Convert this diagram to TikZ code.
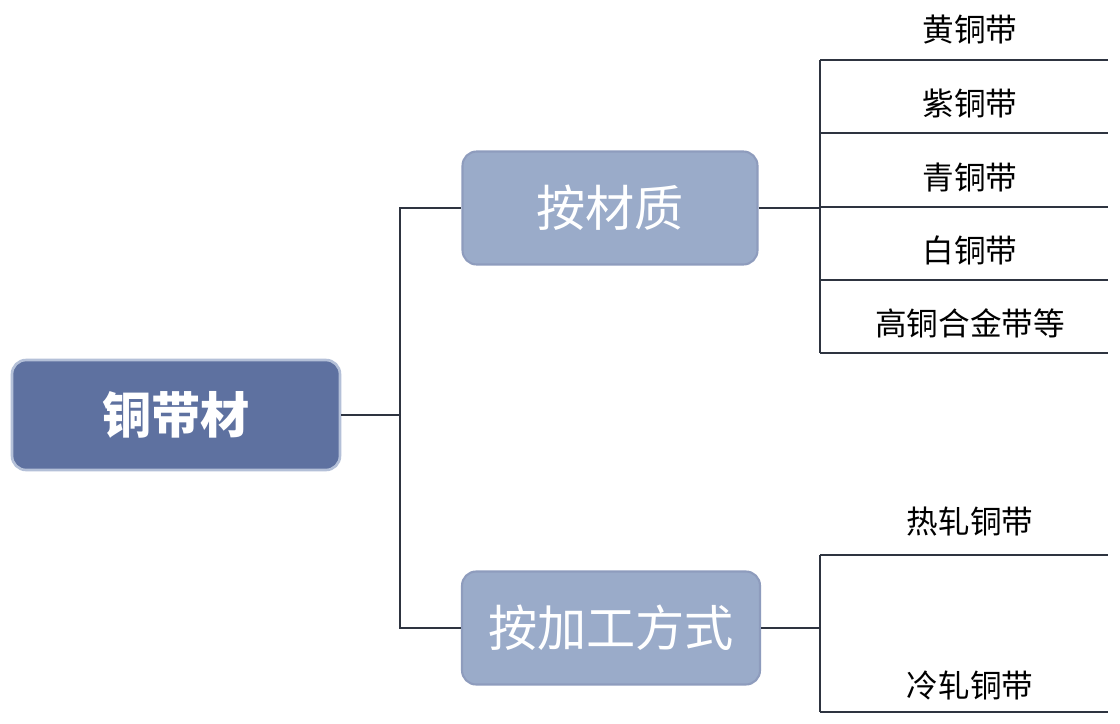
\documentclass[tikz,border=0pt]{standalone}
\usepackage{fontspec}
\setmainfont{Noto Sans CJK SC}
\usetikzlibrary{positioning}
\definecolor{rootblue}{HTML}{5E71A0}
\definecolor{subblue}{HTML}{9AABC9}
\definecolor{boxedge}{HTML}{B4C0D8}
\definecolor{linegray}{HTML}{2E3440}
\begin{document}
\begin{tikzpicture}[x=0.02cm,y=-0.02cm,
            rootbox/.style={rounded corners=8pt, fill=rootblue, draw=boxedge, line width=1.5pt, text=white, font=\fontsize{28}{32}\selectfont\bfseries, minimum width=6.56cm, minimum height=2.2cm},
            subbox/.style={rounded corners=8pt, fill=subblue, draw=rootblue!70, line width=1.2pt, text=white, font=\fontsize{28}{32}\selectfont, minimum width=5.9cm, minimum height=2.26cm},
            leaf/.style={font=\fontsize{18}{22}\selectfont, text=black},
            branch/.style={draw=linegray, line width=1pt}
            ]
        \useasboundingbox (0,0) rectangle (1120,724);
        \fill[white] (0,0) rectangle (1120,724);

        % boxes
        \node[rootbox] (root) at (176,415) {铜带材};
        \node[subbox] (mat) at (610,208) {按材质};
        \node[subbox, minimum width=5.96cm] (proc) at (611,628) {按加工方式};

        % root connector
        \coordinate (fork) at (400,415);
        \draw[branch] (root.east) -- (fork) |- (mat.west);
        \draw[branch] (fork) |- (proc.west);

        % material leaves
        \coordinate (mtop) at (820,60);
        \coordinate (mbot) at (820,353);
        \draw[branch] (mat.east) -- (820,208);
        \draw[branch] (mtop) -- (mbot);
        \foreach \yy in {60,133,207,280,353}
            \draw[branch] (820,\yy) -- (1108,\yy);
        \node[leaf] (m1) at (970,30) {黄铜带};
        \node[leaf] (m2) at (970,103) {紫铜带};
        \node[leaf] (m3) at (970,178) {青铜带};
        \node[leaf] (m4) at (970,250) {白铜带};
        \node[leaf] (m5) at (970,323) {高铜合金带等};

        % process leaves
        \coordinate (ptop) at (820,555);
        \coordinate (pbot) at (820,712);
        \draw[branch] (proc.east) -- (820,628);
        \draw[branch] (ptop) -- (pbot);
        \foreach \yy in {555,712}
            \draw[branch] (820,\yy) -- (1108,\yy);
        \node[leaf] (p1) at (970,522) {热轧铜带};
        \node[leaf] (p2) at (970,685) {冷轧铜带};

\end{tikzpicture}
\end{document}
